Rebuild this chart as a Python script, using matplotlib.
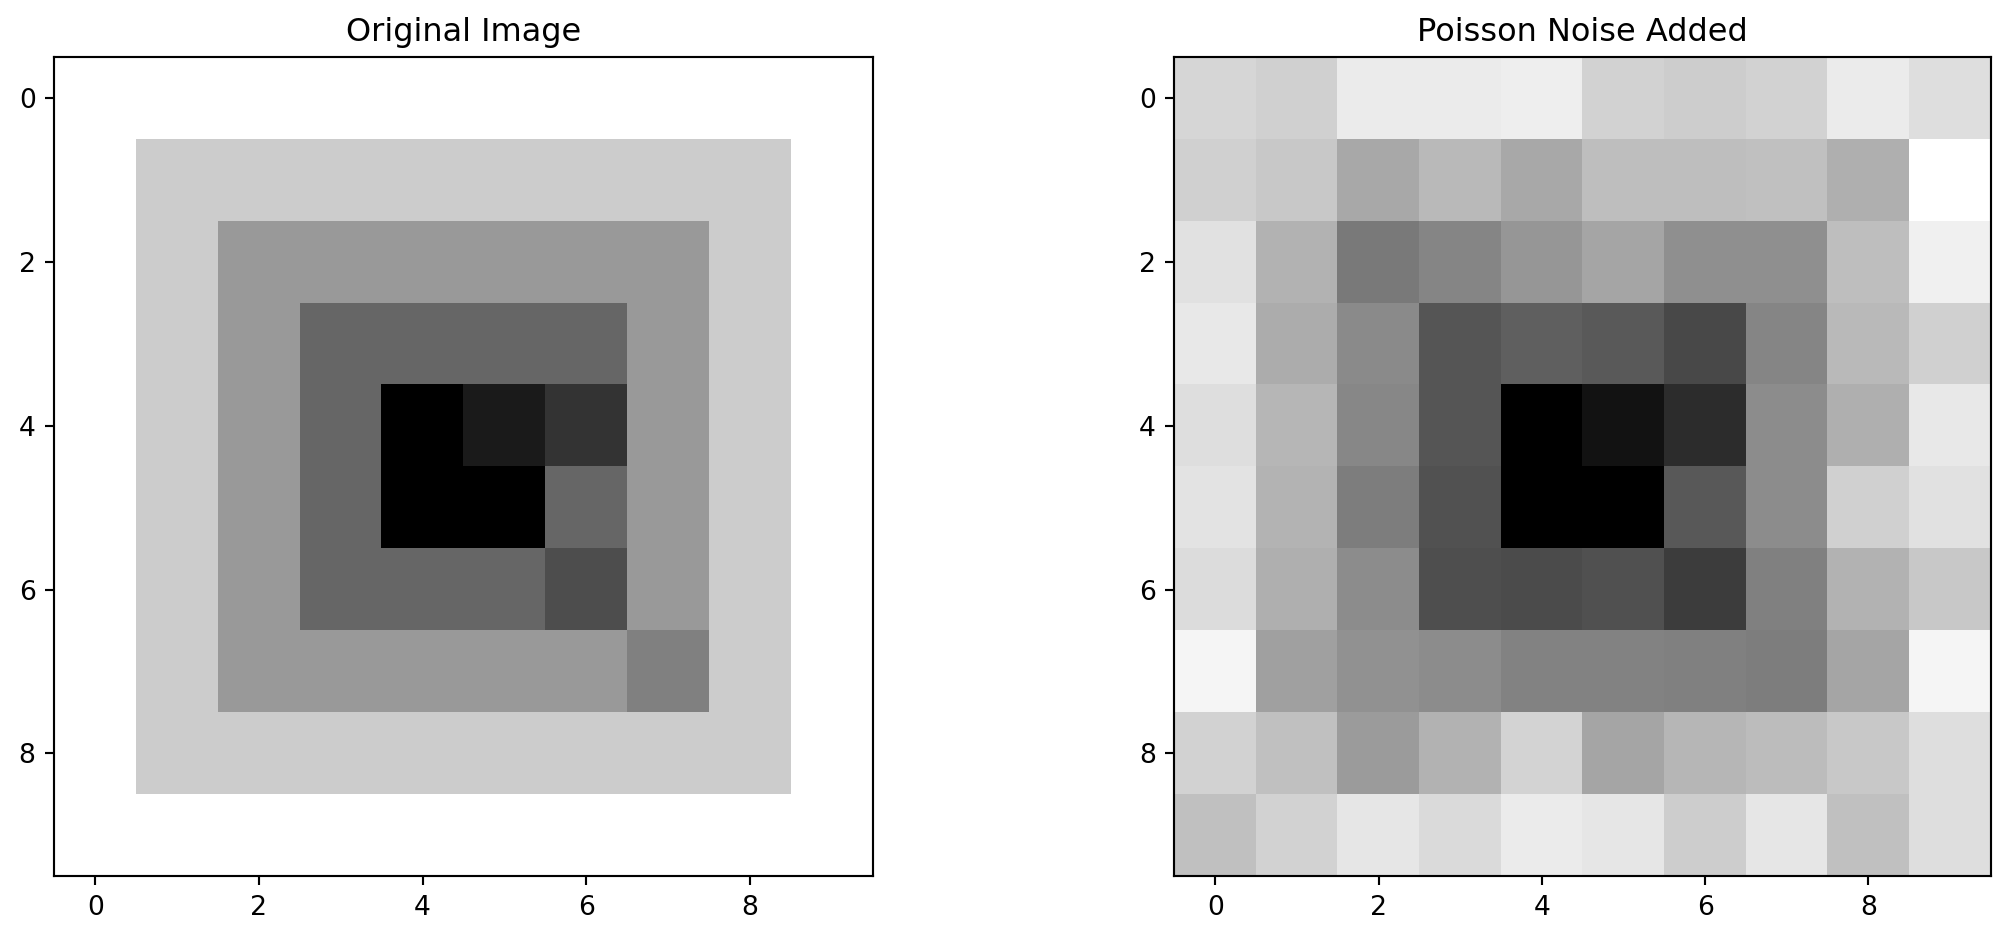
import matplotlib
matplotlib.use("Agg")
import matplotlib.pyplot as plt
import numpy as np

original = [
    [255]*10,
    [255]+[204]*8+[255],
    [255,204]+[153]*6+[204,255],
    [255,204,153,102,102,102,102,153,204,255],
    [255,204,153,102,0,26,51,153,204,255],
    [255,204,153,102,0,0,102,153,204,255],
    [255,204,153,102,102,102,77,153,204,255],
    [255,204,153,153,153,153,153,128,204,255],
    [255]+[204]*8+[255],
    [255]*10,
]
noisy = [
    [214,208,235,235,238,210,205,210,235,222],
    [208,200,168,185,168,190,190,192,175,255],
    [225,178,122,133,150,165,143,143,190,240],
    [232,172,138,85,95,90,72,133,185,208],
    [222,182,135,85,0,18,45,140,175,232],
    [228,180,125,82,0,0,88,140,208,225],
    [220,175,140,78,75,80,60,128,178,200],
    [245,160,145,140,130,130,128,125,165,245],
    [210,192,155,178,212,165,182,188,200,222],
    [192,210,230,218,235,230,205,230,192,222],
]
titles = ["Original Image", "Poisson Noise Added"]

dpi = 192
fig = plt.figure(figsize=(2011/dpi, 940/dpi), dpi=dpi)
ax1 = fig.add_axes([0.027, 0.068, 0.407, 0.871])
ax2 = fig.add_axes([0.584, 0.068, 0.406, 0.871])
for ax, data, t in zip([ax1, ax2], [original, noisy], titles):
    ax.imshow(np.array(data), cmap="gray", aspect="auto")
    ax.set_title(t, fontsize=12)
fig.savefig("out.png", dpi=dpi)
